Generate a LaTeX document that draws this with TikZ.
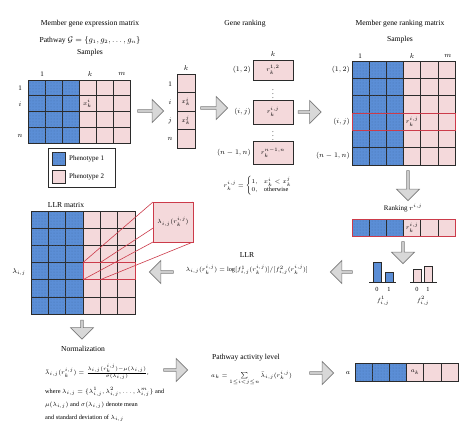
\documentclass[tikz,border=0pt]{standalone}
\usepackage{amsmath}
\usepackage{fontspec}
\setmainfont{Liberation Serif}
\usetikzlibrary{shapes.arrows,patterns}

\definecolor{phenoA}{HTML}{5B8ED6}
\definecolor{phenoB}{HTML}{F4D9DB}
\definecolor{hilite}{HTML}{CC3B4A}
\definecolor{arrowfill}{HTML}{D8D8D8}
\definecolor{arrowline}{HTML}{7A7A7A}
\definecolor{gridline}{HTML}{2B2B2B}

\tikzset{
  cell/.style={draw=gridline, line width=0.6pt, inner sep=0pt, outer sep=0pt, anchor=north west},
  bcell/.style={cell, fill=phenoA, postaction={pattern=dots, pattern color=phenoA!80!black}},
  pcell/.style={cell, fill=phenoB},
  lab/.style={font=\fontsize{7}{8}\selectfont, inner sep=0pt},
  small/.style={font=\fontsize{6.3}{7.5}\selectfont, inner sep=0pt},
  title/.style={font=\fontsize{7.6}{9}\selectfont, inner sep=0pt},
  garrow/.style={single arrow, draw=arrowline, fill=arrowfill, line width=0.6pt,
    inner sep=0pt, outer sep=0pt, minimum width=23pt, single arrow head extend=2.5pt},
  frame/.style={draw=gridline, line width=0.8pt},
}

\begin{document}
\begin{tikzpicture}[x=1pt,y=-1pt]
\fill[white] (0,0) rectangle (474,440);
\useasboundingbox (0,0) rectangle (474,440);

% ---------- member gene expression matrix ----------
\node[title] (t1) at (90,24) {Member gene expression matrix};
\node[title] (t1b) at (90,40) {Pathway $\mathcal{G}=\{g_1, g_2, \ldots, g_n\}$};
\node[title] (t1c) at (90,53) {Samples};
\foreach \r in {1,...,4}{
  \foreach \c in {1,2,3}{
    \node[bcell, minimum width=17pt, minimum height=15.75pt] (m1-\r-\c) at ({28+(\c-1)*17},{80+(\r-1)*15.75}) {};}
  \foreach \c in {4,5,6}{
    \node[pcell, minimum width=17pt, minimum height=15.75pt] (m1-\r-\c) at ({28+(\c-1)*17},{80+(\r-1)*15.75}) {};}
}
\draw[frame] (m1-1-1.north west) rectangle (m1-4-3.south east);
\node[lab] (m1c1) at (42,74) {1};
\node[lab] (m1ck) at (90,74) {$k$};
\node[lab] (m1cm) at (122,74) {$m$};
\node[lab] (m1r1) at (20,88) {1};
\node[lab] (m1ri) at (20,104) {$i$};
\node[lab] (m1rn) at (20,136) {$n$};
\node[small] (xik) at (m1-2-4) {$x^i_k$};

% legend
\node[draw=gridline, line width=0.6pt, minimum width=67pt, minimum height=39pt, anchor=north west, inner sep=0pt] (legend) at (48,148) {};
\node[bcell, minimum width=13pt, minimum height=13pt] (sw1) at (52,152) {};
\node[pcell, minimum width=13pt, minimum height=13pt] (sw2) at (52,170) {};
\node[lab, anchor=west] (lg1) at (69,158.5) {Phenotype 1};
\node[lab, anchor=west] (lg2) at (69,176.5) {Phenotype 2};

\node[garrow, minimum height=26pt] (a1) at (150,111) {};

% ---------- single gene column ----------
\foreach \r in {1,...,4}{
  \node[pcell, minimum width=18pt, minimum height=18.5pt] (cv-\r) at (177,{74+(\r-1)*18.5}) {};}
\node[lab] (cvk) at (186,68) {$k$};
\node[lab] (cvr1) at (170,84) {1};
\node[lab] (cvri) at (170,102) {$i$};
\node[lab] (cvrj) at (170,121) {$j$};
\node[lab] (cvrn) at (170,139) {$n$};
\node[small] (cvxi) at (cv-2) {$x^i_k$};
\node[small] (cvxj) at (cv-3) {$x^j_k$};

\node[garrow, minimum height=27pt] (a2) at (213.5,108) {};

% ---------- gene ranking ----------
\node[title] (t2) at (245,24) {Gene ranking};
\node[lab] (rkk) at (273,54) {$k$};
\node[pcell, minimum width=40pt, minimum height=20pt] (rk1) at (253,60) {};
\node[pcell, minimum width=40pt, minimum height=24pt] (rk2) at (253,100) {};
\node[pcell, minimum width=40pt, minimum height=23pt] (rk3) at (253,141) {};
\node[small] at (rk1) {$r^{1,2}_k$};
\node[small] at (rk2) {$r^{i,j}_k$};
\node[small] at (rk3) {$r^{n-1,n}_k$};
\node[lab, anchor=east] (rkl1) at (251,70) {$(1,2)$};
\node[lab, anchor=east] (rkl2) at (251,112) {$(i,j)$};
\node[lab, anchor=east] (rkl3) at (251,152.5) {$(n-1,n)$};
\node[lab] (vd1) at (273,91) {$\vdots$};
\node[lab] (vd2) at (273,133) {$\vdots$};
\node[small] (rdef) at (258,186) {$r^{i,j}_k=\begin{cases}1, & x^i_k<x^j_k\\[-1pt] 0, & \text{otherwise}\end{cases}$};

\node[garrow, minimum height=23pt] (a3) at (309,112) {};

% ---------- member gene ranking matrix ----------
\node[title] (t3) at (400,24) {Member gene ranking matrix};
\node[title] (t3b) at (400,40) {Samples};
\foreach \r in {1,...,6}{
  \foreach \c in {1,2,3}{
    \node[bcell, minimum width=17.17pt, minimum height=17.33pt] (m3-\r-\c) at ({352+(\c-1)*17.17},{61+(\r-1)*17.33}) {};}
  \foreach \c in {4,5,6}{
    \node[pcell, minimum width=17.17pt, minimum height=17.33pt] (m3-\r-\c) at ({352+(\c-1)*17.17},{61+(\r-1)*17.33}) {};}
}
\draw[frame] (m3-1-1.north west) rectangle (m3-6-3.south east);
\draw[hilite, line width=0.8pt] (m3-4-1.north west) rectangle (m3-4-6.south east);
\node[lab] (m3c1) at (360,56) {1};
\node[lab] (m3ck) at (412,56) {$k$};
\node[lab] (m3cm) at (448,56) {$m$};
\node[lab, anchor=east] (m3r1) at (350,70) {$(1,2)$};
\node[lab, anchor=east] (m3r2) at (350,121.5) {$(i,j)$};
\node[lab, anchor=east] (m3r3) at (350,156) {$(n-1,n)$};
\node[small] (m3x) at (m3-4-4) {$r^{i,j}_k$};

\node[garrow, minimum height=30pt, shape border rotate=270] (a4) at (408,185) {};

% ---------- ranking of one gene pair ----------
\node[lab] (t4) at (403,208) {Ranking $r^{i,j}$};
\foreach \c in {1,2,3}{
  \node[bcell, minimum width=17.17pt, minimum height=17pt] (rb-\c) at ({352+(\c-1)*17.17},219) {};}
\foreach \c in {4,5,6}{
  \node[pcell, minimum width=17.17pt, minimum height=17pt] (rb-\c) at ({352+(\c-1)*17.17},219) {};}
\draw[hilite, line width=0.8pt] (rb-1.north west) rectangle (rb-6.south east);
\node[small] (rbx) at (rb-4) {$r^{i,j}_k$};

\node[garrow, minimum height=22pt, shape border rotate=270] (a5) at (403,252) {};

% class-conditional distributions
\draw[gridline, line width=0.6pt] (369,282) -- (396,282);
\draw[gridline, line width=0.6pt, fill=phenoA] (373,282) rectangle (381,262);
\draw[gridline, line width=0.6pt, fill=phenoA] (385,282) rectangle (393,272);
\draw[gridline, line width=0.6pt] (410,282) -- (437,282);
\draw[gridline, line width=0.6pt, fill=phenoB] (413,282) rectangle (421,269);
\draw[gridline, line width=0.6pt, fill=phenoB] (424,282) rectangle (432,266);
\node[small] (h10) at (377,289) {0};
\node[small] (h11) at (389,289) {1};
\node[small] (h20) at (417,289) {0};
\node[small] (h21) at (428,289) {1};
\node[small] (f1) at (383,301) {$f^1_{i,j}$};
\node[small] (f2) at (423,301) {$f^2_{i,j}$};

\node[garrow, minimum height=22pt, shape border rotate=180] (a6) at (342,272) {};

% ---------- LLR ----------
\node[title] (t5) at (247,255) {LLR};
\node[small] (llr) at (247,270) {$\lambda_{i,j}(r^{i,j}_k)=\log[f^1_{i,j}(r^{i,j}_k)]/[f^2_{i,j}(r^{i,j}_k)]$};

\node[garrow, minimum height=24pt, shape border rotate=180] (a7) at (162,272) {};

% ---------- LLR matrix ----------
\node[title] (t6) at (66,205) {LLR matrix};
\foreach \r in {1,...,6}{
  \foreach \c in {1,2,3}{
    \node[bcell, minimum width=17.33pt, minimum height=17.17pt] (m4-\r-\c) at ({31+(\c-1)*17.33},{211+(\r-1)*17.17}) {};}
  \foreach \c in {4,5,6}{
    \node[pcell, minimum width=17.33pt, minimum height=17.17pt] (m4-\r-\c) at ({31+(\c-1)*17.33},{211+(\r-1)*17.17}) {};}
}
\draw[frame] (m4-1-1.north west) rectangle (m4-6-3.south east);
\node[lab] (m4l) at (19,272) {$\lambda_{i,j}$};
\draw[hilite, line width=0.6pt] (m4-4-4.north west) rectangle (m4-4-6.south east);
\coordinate (zbnw) at (153,202);
\coordinate (zbse) at (193,242);
\draw[hilite, line width=0.6pt] (m4-4-4.north west) -- (zbnw);
\draw[hilite, line width=0.6pt] (m4-4-4.north east) -- (zbnw -| zbse);
\draw[hilite, line width=0.6pt] (m4-4-4.south west) -- (zbnw |- zbse);
\draw[hilite, line width=0.6pt] (m4-4-4.south east) -- (zbse);
\node[draw=hilite, fill=phenoB, line width=0.7pt, minimum size=40pt, inner sep=0pt] (zb) at (173,222) {};
\node[small] at (zb) {$\lambda_{i,j}(r^{i,j}_k)$};

\node[garrow, minimum height=19pt, shape border rotate=270] (a8) at (82,329) {};

% ---------- normalization ----------
\node[title] (t7) at (83,349) {Normalization};
\node[small, anchor=west] (n1) at (45,372) {$\bar{\lambda}_{i,j}(r^{i,j}_k)=\tfrac{\lambda_{i,j}(r^{i,j}_k)-\mu(\lambda_{i,j})}{\sigma(\lambda_{i,j})}$,};
\node[small, anchor=west] (n2) at (45,392) {where $\lambda_{i,j}=\{\lambda^1_{i,j}, \lambda^2_{i,j}, \ldots, \lambda^m_{i,j}\}$ and};
\node[small, anchor=west] (n3) at (45,405) {$\mu(\lambda_{i,j})$ and $\sigma(\lambda_{i,j})$ denote mean};
\node[small, anchor=west] (n4) at (45,418) {and standard deviation of $\lambda_{i,j}$};

\node[garrow, minimum height=24pt] (a9) at (175,370) {};

% ---------- pathway activity ----------
\node[title, anchor=west] (t8) at (212,358) {Pathway activity level};
\node[small, anchor=west] (pa) at (211,378) {$a_k=\sum\limits_{1\le i<j\le n}\bar{\lambda}_{i,j}(r^{i,j}_k)$};

\node[garrow, minimum height=24pt] (a10) at (321,373) {};

\node[lab] (av) at (348,373) {$a$};
\foreach \c in {1,2,3}{
  \node[bcell, minimum width=17.17pt, minimum height=18pt] (ab-\c) at ({355+(\c-1)*17.17},363) {};}
\foreach \c in {4,5,6}{
  \node[pcell, minimum width=17.17pt, minimum height=18pt] (ab-\c) at ({355+(\c-1)*17.17},363) {};}
\draw[frame] (ab-1.north west) rectangle (ab-3.south east);
\node[small] (abk) at (ab-4) {$a_k$};
\end{tikzpicture}
\end{document}
